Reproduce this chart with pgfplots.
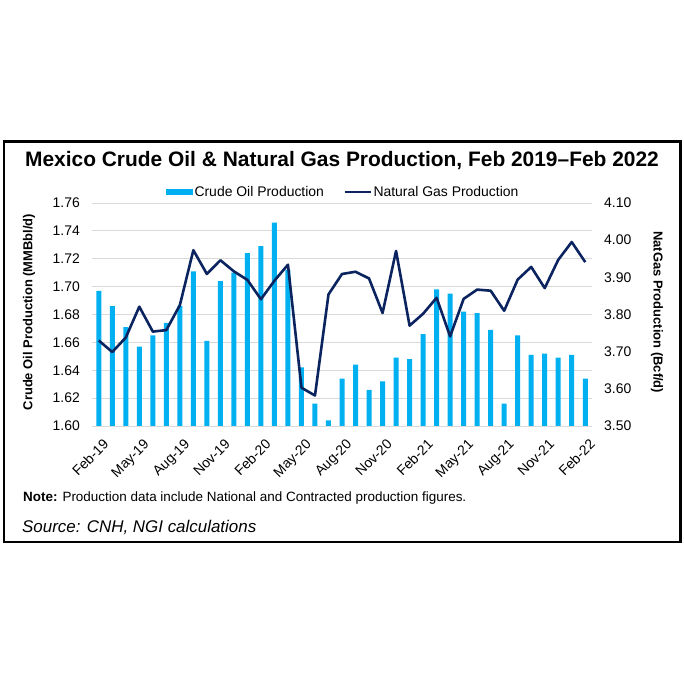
\documentclass[border=0pt]{standalone}
\usepackage{fontspec}
\setmainfont{Liberation Sans}
\usepackage{pgfplots}
\pgfplotsset{compat=1.18}
\usepackage{pgfplotstable}

\definecolor{oilblue}{HTML}{00B0F0}
\definecolor{gasnavy}{HTML}{0B2460}
\definecolor{gridgrey}{HTML}{D9D9D9}

% Monthly production, Feb 2019 (0) to Feb 2022 (36)
\pgfplotstableread{
idx oil   gas
0   1.697 3.730
1   1.686 3.699
2   1.671 3.738
3   1.657 3.821
4   1.665 3.754
5   1.674 3.758
6   1.686 3.825
7   1.711 3.973
8   1.661 3.909
9   1.704 3.946
10  1.710 3.916
11  1.724 3.893
12  1.729 3.841
13  1.746 3.891
14  1.712 3.934
15  1.642 3.603
16  1.616 3.582
17  1.604 3.854
18  1.634 3.909
19  1.644 3.915
20  1.626 3.897
21  1.632 3.804
22  1.649 3.971
23  1.648 3.770
24  1.666 3.802
25  1.698 3.845
26  1.695 3.741
27  1.682 3.842
28  1.681 3.867
29  1.669 3.864
30  1.616 3.810
31  1.665 3.894
32  1.651 3.928
33  1.652 3.871
34  1.649 3.947
35  1.651 3.995
36  1.634 3.941
}\prodtable

\begin{document}
\begin{tikzpicture}[x=1bp,y=1bp]
\fill[white] (0,0) rectangle (684,684);
\path[use as bounding box] (0,0) rectangle (684,684);
\draw[line width=2.5bp] (4,142) rectangle (680.5,542.5);

\node[font=\bfseries\fontsize{21}{25}\selectfont, anchor=base, inner sep=0pt]
  at (342,517) {Mexico Crude Oil \& Natural Gas Production, Feb 2019–Feb 2022};

\begin{axis}[
  at={(92bp,258bp)}, anchor=south west,
  scale only axis, width=500bp, height=223bp,
  xmin=-0.5, xmax=36.5, ymin=1.60, ymax=1.76,
  ytick={1.60,1.62,1.64,1.66,1.68,1.70,1.72,1.74,1.76},
  xtick={0,3,6,9,12,15,18,21,24,27,30,33,36},
  xticklabels={Feb-19,May-19,Aug-19,Nov-19,Feb-20,May-20,Aug-20,Nov-20,Feb-21,May-21,Aug-21,Nov-21,Feb-22},
  axis line style={draw=none},
  major tick length=0pt,
  ymajorgrids,
  major grid style={gridgrey, line width=0.9bp},
  /pgf/number format/assume math mode=true,
  tick label style={font=\fontsize{14}{16}\selectfont, text=black},
  yticklabel style={/pgf/number format/fixed, /pgf/number format/fixed zerofill,
    /pgf/number format/precision=2, inner sep=0pt, anchor=east, xshift=-12bp},
  xticklabel style={rotate=45, anchor=north east, inner sep=0pt, yshift=-11bp, xshift=-6bp},
  ylabel={Crude Oil Production (MMBbl/d)},
  ylabel style={font=\bfseries\fontsize{13}{15}\selectfont,
    at={(axis description cs:-0.126,0.511)}, anchor=center},
  legend columns=2,
  legend cell align=left,
  legend style={at={(axis description cs:0.502,1.049)}, anchor=center,
    draw=none, fill=none, inner sep=0pt,
    font=\fontsize{14}{16}\selectfont,
    nodes={inner sep=1.5bp},
    /tikz/every even column/.append style={column sep=18bp}},
]
\addplot[ybar, bar width=5bp, bar shift=0pt, fill=oilblue, draw=none,
  legend image code/.code={\fill[oilblue] (0bp,-3bp) rectangle (27bp,3bp);}]
  table[x=idx, y=oil] {\prodtable};
\addlegendentry{Crude Oil Production}
\addlegendimage{legend image code/.code={\draw[gasnavy, line width=2.5bp] (0bp,0bp) -- (26bp,0bp);}}
\addlegendentry{Natural Gas Production}
\end{axis}

\begin{axis}[
  at={(92bp,258bp)}, anchor=south west,
  scale only axis, width=500bp, height=223bp,
  xmin=-0.5, xmax=36.5, ymin=3.5, ymax=4.1,
  axis x line=none, axis y line*=right,
  axis line style={draw=none},
  ytick={3.5,3.6,3.7,3.8,3.9,4.0,4.1},
  major tick length=0pt,
  /pgf/number format/assume math mode=true,
  tick label style={font=\fontsize{14}{16}\selectfont, text=black},
  yticklabel style={/pgf/number format/fixed, /pgf/number format/fixed zerofill,
    /pgf/number format/precision=2, inner sep=0pt, anchor=west, xshift=12bp},
  ylabel={NatGas Production (Bcf/d)},
  ylabel style={font=\bfseries\fontsize{13}{15}\selectfont,
    at={(axis description cs:1.13,0.51)}, anchor=center, rotate=180},
]
\addplot[gasnavy, line width=2.6bp, line join=round, mark=none]
  table[x=idx, y=gas] {\prodtable};
\end{axis}

\node[anchor=base west, inner sep=0pt, font=\fontsize{13.5}{16}\selectfont]
  at (23,182) {\textbf{Note:} Production data include National and Contracted production figures.};
\node[anchor=base west, inner sep=0pt, font=\itshape\fontsize{17}{20}\selectfont]
  at (22,151) {Source: CNH, NGI calculations};
\end{tikzpicture}
\end{document}
